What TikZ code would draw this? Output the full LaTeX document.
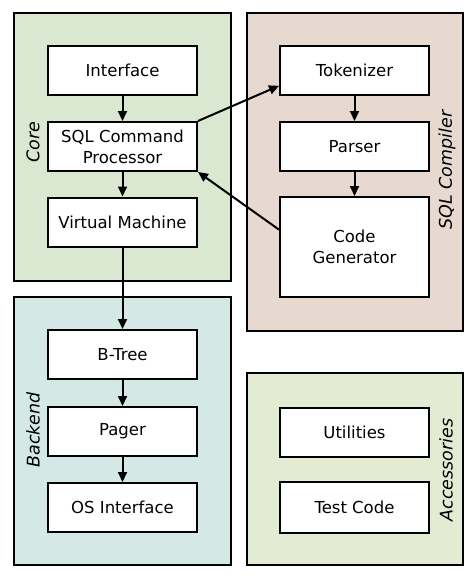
\documentclass[tikz,border=0pt]{standalone}
\usepackage{fontspec}
\setmainfont{DejaVu Sans}
\usetikzlibrary{arrows.meta,calc}
\definecolor{coreG}{HTML}{DAE8D2}
\definecolor{compR}{HTML}{E7D8D0}
\definecolor{backB}{HTML}{D4E9E5}
\definecolor{accG}{HTML}{E3ECD3}
\begin{document}
\begin{tikzpicture}[x=1pt,y=-1pt,
  grp/.style={draw=black,line width=2pt,inner sep=0pt},
  box/.style={draw=black,line width=2pt,fill=white,minimum width=149pt,minimum height=49pt,inner sep=0pt,align=center,font=\fontsize{16.5}{21}\selectfont},
  glabel/.style={rotate=90,font=\fontsize{17.5}{20}\selectfont\itshape},
  arr/.style={line width=2pt,-{Triangle[length=10pt,width=9pt]}}]
\useasboundingbox (0,0) rectangle (474,579);
% groups
\node[grp,fill=coreG,minimum width=217pt,minimum height=268pt] (core) at (122.5,146.5) {};
\node[grp,fill=compR,minimum width=216pt,minimum height=317.5pt] (comp) at (355,171.75) {};
\node[grp,fill=backB,minimum width=217pt,minimum height=268pt] (back) at (122.5,431) {};
\node[grp,fill=accG,minimum width=216pt,minimum height=192pt] (acc) at (355,469) {};
% group labels
\node[glabel] (lcore) at (33,142) {Core};
\node[glabel] (lcomp) at (447,170) {SQL Compiler};
\node[glabel] (lback) at (33,430) {Backend};
\node[glabel] (lacc) at (446,470) {Accessories};
% boxes
\node[box] (intf) at (122.5,70) {Interface};
\node[box] (sqlp) at (122.5,146.5) {SQL Command\\Processor};
\node[box] (vm) at (122.5,222) {Virtual Machine};
\node[box] (tok) at (354.5,70.5) {Tokenizer};
\node[box] (pars) at (354.5,146.5) {Parser};
\node[box,minimum height=100pt] (cgen) at (354.5,247) {Code\\Generator};
\node[box] (btree) at (122.5,354.5) {B-Tree};
\node[box] (pager) at (122.5,431.5) {Pager};
\node[box] (osi) at (122.5,507.5) {OS Interface};
\node[box] (util) at (354.5,432) {Utilities};
\node[box,minimum height=51pt] (test) at (354.5,507.5) {Test Code};
% connectors
\draw[arr] (intf) -- (sqlp);
\draw[arr] (sqlp) -- (vm);
\draw[arr] (vm) -- (btree);
\draw[arr] (btree) -- (pager);
\draw[arr] (pager) -- (osi);
\draw[arr] (tok) -- (pars);
\draw[arr] (pars) -- (cgen);
\draw[arr] (sqlp.north east) -- ($(tok.south west)!0.2!(tok.north west)$);
\draw[arr] ($(cgen.south west)!0.67!(cgen.north west)$) -- (sqlp.south east);
\end{tikzpicture}
\end{document}
